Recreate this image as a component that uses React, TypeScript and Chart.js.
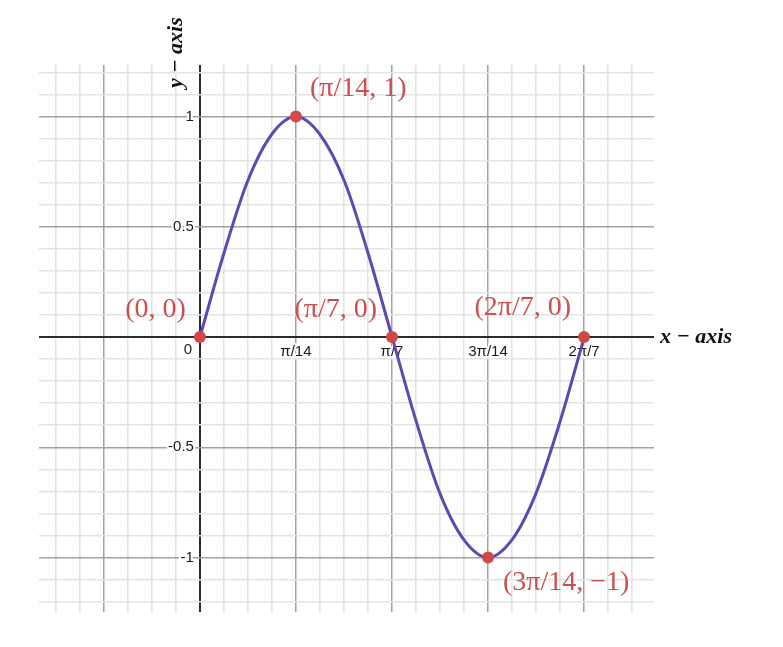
import React, { useEffect, useRef } from "react";
import { Chart, registerables } from "chart.js";

Chart.register(...registerables);

const PI = Math.PI;

// Visible window (data units)
const X_MIN = -0.376;
const X_MAX = 1.061;
const Y_MIN = -1.247;
const Y_MAX = 1.234;

// Grid spacing
const X_GRID_STEP = PI / 56;
const Y_GRID_STEP = 0.1;

// Tick labels
const xTickValues = [PI / 14, PI / 7, (3 * PI) / 14, (2 * PI) / 7];
const xTickLabels = ["π/14", "π/7", "3π/14", "2π/7"];
const yTickValues = [1, 0.5, -0.5, -1];
const yTickLabels = ["1", "0.5", "-0.5", "-1"];

// Curve
const curveX = [0, 0.056, 0.112, 0.168, 0.224, 0.28, 0.337, 0.393, 0.449, 0.505, 0.561, 0.617, 0.673, 0.729, 0.785, 0.842, 0.898];
const curveY = [0, 0.38, 0.71, 0.92, 1, 0.92, 0.71, 0.38, 0, -0.38, -0.71, -0.92, -1, -0.92, -0.71, -0.38, 0];

// Key points
const keyX = [0, PI / 14, PI / 7, (3 * PI) / 14, (2 * PI) / 7];
const keyY = [0, 1, 0, -1, 0];
const keyLabels = ["(0, 0)", "(π/14, 1)", "(π/7, 0)", "(3π/14, −1)", "(2π/7, 0)"];

const CURVE_COLOR = "#6048b2";
const POINT_COLOR = "#d04848";
const LABEL_COLOR = "#c9504e";

function gridStyle(value: number, step: number, majorEvery: number) {
  const k = Math.round(value / step);
  if (k === 0) return { color: "#2b2b2b", width: 2 };
  if (k % majorEvery === 0) return { color: "#a2a2a2", width: 1.5 };
  return { color: "#e4e4e4", width: 1.6 };
}

function buildTicks(min: number, max: number, step: number) {
  const out: { value: number }[] = [];
  const kStart = Math.ceil(min / step);
  const kEnd = Math.floor(max / step);
  for (let k = kStart; k <= kEnd; k++) out.push({ value: k * step });
  return out;
}

const labelOffsets = [
  { dx: -14, dy: -27, align: "right" },
  { dx: 14, dy: -28, align: "left" },
  { dx: -15, dy: -27, align: "right" },
  { dx: 15, dy: 25, align: "left" },
  { dx: -13, dy: -29, align: "right" },
];

const decorPlugin = {
  id: "decor",
  beforeDatasetsDraw(chart: any) {
    const { ctx, scales } = chart;
    const xs = scales.x;
    const ys = scales.y;
    const x0 = xs.getPixelForValue(0);
    const y0 = ys.getPixelForValue(0);
    ctx.save();
    ctx.font = '15px "Liberation Sans", Arial, sans-serif';
    ctx.fillStyle = "#1a1a1a";
    ctx.lineJoin = "round";
    ctx.strokeStyle = "#ffffff";
    ctx.lineWidth = 4;
    ctx.textAlign = "center";
    ctx.textBaseline = "middle";
    xTickValues.forEach((v, i) => {
      const px = xs.getPixelForValue(v);
      ctx.strokeText(xTickLabels[i], px, y0 + 15);
      ctx.fillText(xTickLabels[i], px, y0 + 15);
    });
    ctx.strokeText("0", x0 - 12, y0 + 13);
    ctx.fillText("0", x0 - 12, y0 + 13);
    ctx.textAlign = "right";
    yTickValues.forEach((v, i) => {
      const py = ys.getPixelForValue(v);
      ctx.strokeText(yTickLabels[i], x0 - 6, py);
      ctx.fillText(yTickLabels[i], x0 - 6, py);
    });
    ctx.restore();
  },
  afterDatasetsDraw(chart: any) {
    const { ctx, scales, chartArea } = chart;
    const xs = scales.x;
    const ys = scales.y;
    ctx.save();
    ctx.font = '28px "Liberation Serif", "Times New Roman", serif';
    ctx.fillStyle = LABEL_COLOR;
    ctx.textBaseline = "middle";
    keyLabels.forEach((lab, i) => {
      const px = xs.getPixelForValue(keyX[i]);
      const py = ys.getPixelForValue(keyY[i]);
      const o = labelOffsets[i];
      ctx.textAlign = o.align;
      ctx.fillText(lab, px + o.dx, py + o.dy);
    });
    ctx.fillStyle = "#111";
    ctx.font = 'italic bold 22px "Liberation Serif", "DejaVu Serif", serif';
    ctx.textAlign = "left";
    ctx.textBaseline = "middle";
    ctx.fillText("x − axis", chartArea.right + 6, ys.getPixelForValue(0));
    const x0 = xs.getPixelForValue(0);
    ctx.translate(x0 - 24, chartArea.top + 23);
    ctx.rotate(-Math.PI / 2);
    ctx.fillText("y − axis", 0, 0);
    ctx.restore();
  },
};

export default function App() {
  const ref = useRef<HTMLCanvasElement | null>(null);
  useEffect(() => {
    if (!ref.current) return;
    const chart = new Chart(ref.current, {
      type: "scatter",
      data: {
        datasets: [
          {
            label: "key points",
            data: keyX.map((x, i) => ({ x, y: keyY[i] })),
            showLine: false,
            pointRadius: 6,
            pointHoverRadius: 6,
            pointBackgroundColor: POINT_COLOR,
            pointBorderColor: POINT_COLOR,
            pointBorderWidth: 0,
            order: 0,
          },
          {
            label: "y = sin(7x)",
            data: curveX.map((x, i) => ({ x, y: curveY[i] })),
            showLine: true,
            borderColor: CURVE_COLOR,
            borderWidth: 3,
            pointRadius: 0,
            cubicInterpolationMode: "monotone",
            fill: false,
            order: 1,
          },
        ],
      },
      options: {
        responsive: false,
        animation: false,
        devicePixelRatio: 1,
        layout: { padding: { left: 31, top: 57, right: 121, bottom: 27 } },
        plugins: { legend: { display: false }, tooltip: { enabled: false } },
        events: [],
        scales: {
          x: {
            type: "linear",
            min: X_MIN,
            max: X_MAX,
            afterBuildTicks: (s: any) => {
              s.ticks = buildTicks(X_MIN, X_MAX, X_GRID_STEP);
            },
            ticks: { display: false },
            border: { display: false },
            grid: {
              drawTicks: false,
              color: (c: any) => gridStyle(c.tick.value, X_GRID_STEP, 4).color,
              lineWidth: (c: any) => gridStyle(c.tick.value, X_GRID_STEP, 4).width,
            },
          },
          y: {
            type: "linear",
            min: Y_MIN,
            max: Y_MAX,
            afterBuildTicks: (s: any) => {
              s.ticks = buildTicks(Y_MIN, Y_MAX, Y_GRID_STEP);
            },
            ticks: { display: false },
            border: { display: false },
            grid: {
              drawTicks: false,
              color: (c: any) => gridStyle(c.tick.value, Y_GRID_STEP, 5).color,
              lineWidth: (c: any) => gridStyle(c.tick.value, Y_GRID_STEP, 5).width,
            },
          },
        },
      },
      plugins: [decorPlugin],
    } as any);
    return () => chart.destroy();
  }, []);
  return (
    <div style={{ width: 767, height: 631 }}>
      <canvas ref={ref} width={767} height={631} style={{ display: "block" }} />
    </div>
  );
}
